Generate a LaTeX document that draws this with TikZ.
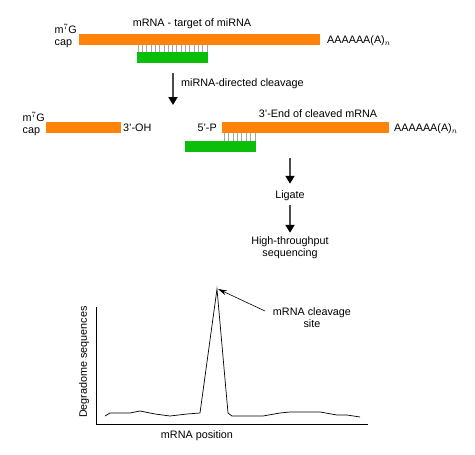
\documentclass[tikz,border=0pt]{standalone}
\usepackage{fontspec}
\setmainfont{Liberation Sans}
\usetikzlibrary{arrows.meta}
\definecolor{mrnaorange}{RGB}{255,130,10}
\definecolor{mirnagreen}{RGB}{10,190,10}

\begin{document}
\begin{tikzpicture}[x=1pt,y=-1pt,
  lbl/.style={font=\fontsize{10.8}{12}\selectfont,inner sep=1pt},
  stepdown/.style={gray!60!black,line width=2pt,-{Triangle[width=9pt,length=8pt,color=black]}},
  pair/.style={gray!70,line width=0.5pt}]
\useasboundingbox (0,0) rectangle (475,455);
% uncut target
\fill[mrnaorange] (79,34) rectangle (320,45);
\foreach \x in {138,142.3,...,207} \draw[pair] (\x,45) -- (\x,52);
\fill[mirnagreen] (137,52) rectangle (208,63);
\node[lbl] (target) at (192,24) {mRNA - target of miRNA};
\node[lbl,align=left,anchor=east] (cap1) at (78,36) {m$^7$G\\cap};
\node[lbl,anchor=west] (tail1) at (326,41) {AAAAAA(A)$_n$};
% cleavage
\coordinate (cut) at (173,73);
\coordinate (halves) at (173,105);
\draw[stepdown] (cut) -- (halves);
\node[lbl,anchor=west] (cleave) at (180,84) {miRNA-directed cleavage};
% 5' fragment
\fill[mrnaorange] (46,122) rectangle (121,133);
\node[lbl,align=left,anchor=east] (cap2) at (46,124) {m$^7$G\\cap};
\node[lbl,anchor=west] (oh) at (122,128) {3'-OH};
% 3' fragment
\fill[mrnaorange] (222,122) rectangle (389,133);
\foreach \x in {224,228.4,...,255} \draw[pair] (\x,133) -- (\x,141);
\fill[mirnagreen] (185,141) rectangle (256,152);
\node[lbl,anchor=east] (p5) at (218,128) {5'-P};
\node[lbl] (end3) at (318,114) {3'-End of cleaved mRNA};
\node[lbl,anchor=west] (tail2) at (393,129) {AAAAAA(A)$_n$};
% library steps
\coordinate (frag) at (290,158);
\node[lbl] (ligate) at (290,196) {Ligate};
\node[lbl,align=center] (seq) at (290,248) {High-throughput\\sequencing};
\draw[stepdown] (frag) -- ([yshift=6pt]ligate.north);
\draw[stepdown] ([yshift=-3pt]ligate.south) -- ([yshift=3pt]seq.north);
% degradome plot
\draw[line width=0.7pt] (96,307) -- (96,424) -- (368,424);
\draw[line width=0.7pt] (105,416) -- (110,413) -- (130,413) -- (140,411) -- (155,414)
  -- (170,416) -- (187,414) -- (200,413) -- (217,289) -- (228,413) -- (232,416)
  -- (263,416) -- (280,413) -- (290,412) -- (320,412) -- (337,415) -- (347,415) -- (360,417);
\coordinate (peak) at (218,289);
\node[lbl,align=center] (site) at (312,318) {mRNA cleavage\\site};
\draw[line width=0.6pt,-{Stealth[length=9pt,width=5pt]}] (265,311) -- (peak);
\node[lbl,rotate=90] (yaxis) at (84,362) {Degradome sequences};
\node[lbl] (xaxis) at (197,436) {mRNA position};
\end{tikzpicture}
\end{document}
